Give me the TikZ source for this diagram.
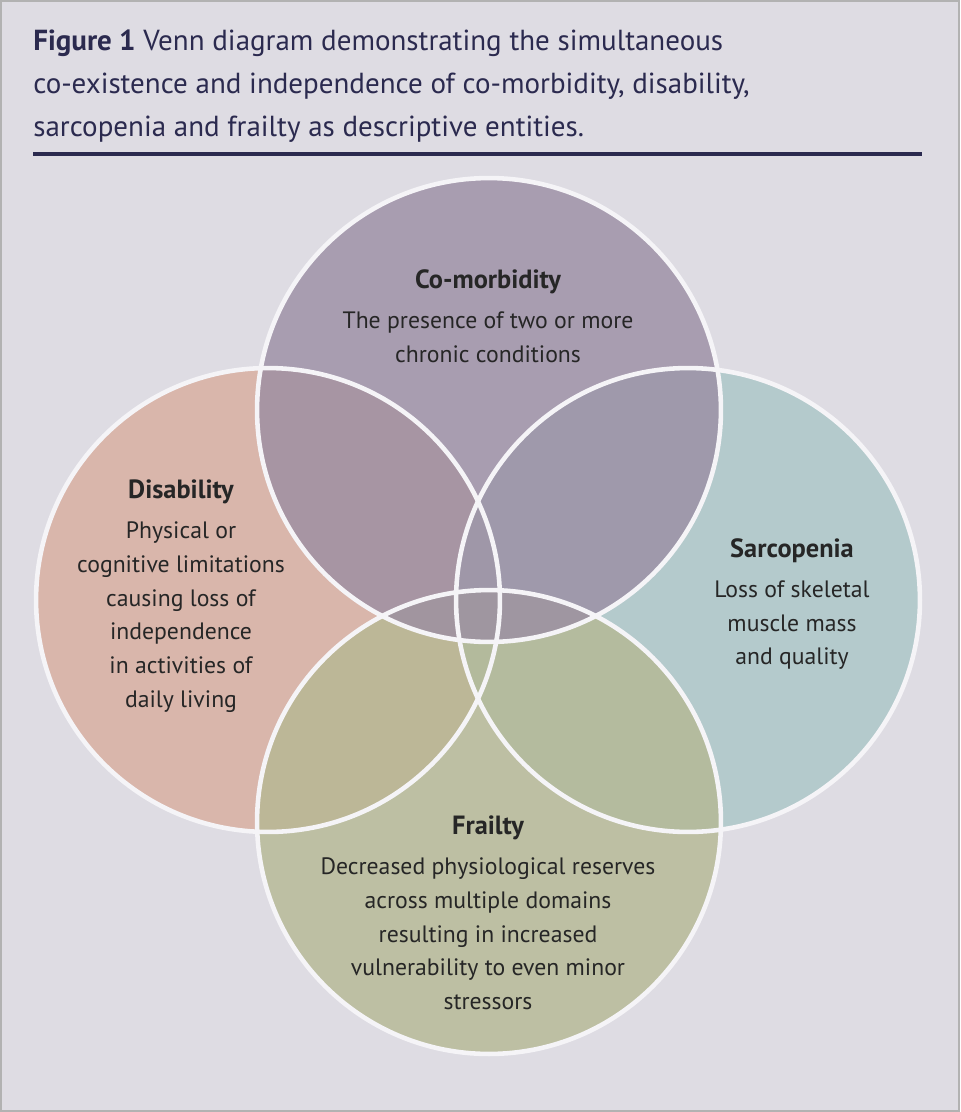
\documentclass[tikz,border=0pt]{standalone}
\usepackage{fontspec}
\setmainfont{PT Sans}
\usepackage{xcolor}
\usetikzlibrary{positioning}
\definecolor{bgcol}{HTML}{DEDCE3}
\definecolor{navy}{HTML}{2B2A4F}
\definecolor{comocol}{HTML}{9A8CA2}
\definecolor{discol}{HTML}{D8AC9C}
\definecolor{sarcol}{HTML}{A9C6C6}
\definecolor{fracol}{HTML}{B4B892}
\begin{document}
\begin{tikzpicture}[x=0.02cm, y=-0.02cm,
        venn/.style={circle, minimum size=9.28cm, inner sep=0pt, fill=#1, fill opacity=0.78},
        ring/.style={circle, minimum size=9.28cm, inner sep=0pt, draw=white!70!bgcol, line width=2.6pt},
        head/.style={font=\bfseries\fontsize{15}{18}\selectfont, text=black!85},
        body/.style={align=center, font=\fontsize{13.5}{19.2}\selectfont, text=black!85}]
        % background
        \fill[bgcol] (0,0) rectangle (960,1112);
        \useasboundingbox (0,0) rectangle (960,1112);
        \draw[gray!60, line width=0.6pt] (1,1) rectangle (959,1111);
        % title
        \node[anchor=north west, align=left, text=navy, inner sep=0pt,
            font=\fontsize{16.5}{24.2}\selectfont] (title) at (33,30)
            {\textbf{Figure 1} Venn diagram demonstrating the simultaneous\\
             co-existence and independence of co-morbidity, disability,\\
             sarcopenia and frailty as descriptive entities.};
        \draw[navy, line width=2.2pt] (33,154) -- (922,154);
        % circles
        \node[venn=discol] (dis) at (268,600) {};
        \node[venn=sarcol] (sar) at (688,600) {};
        \node[venn=fracol] (fra) at (489,822) {};
        \node[venn=comocol] (como) at (489,410) {};
        \foreach \c in {dis,sar,fra,como}
            \node[ring] at (\c) {};
        % labels
        \node[head] (comoh) at (488,282) {Co-morbidity};
        \node[body, below=3pt of comoh] {The presence of two or more\\chronic conditions};
        \node[head] (dish) at (181,492) {Disability};
        \node[body, below=3pt of dish] {Physical or\\cognitive limitations\\causing loss of\\independence\\in activities of\\daily living};
        \node[head] (sarh) at (792,551) {Sarcopenia};
        \node[body, below=3pt of sarh] {Loss of skeletal\\muscle mass\\and quality};
        \node[head] (frah) at (488,828) {Frailty};
        \node[body, below=3pt of frah] {Decreased physiological reserves\\across multiple domains\\resulting in increased\\vulnerability to even minor\\stressors};
\end{tikzpicture}
\end{document}
